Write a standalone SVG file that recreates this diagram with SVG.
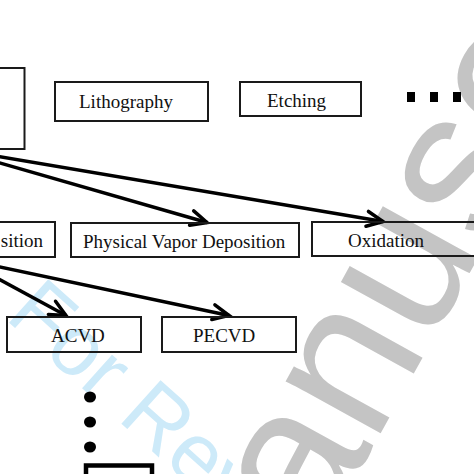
<svg xmlns="http://www.w3.org/2000/svg" width="474" height="474" viewBox="0 0 474 474">
<style>
.box{fill:none;stroke:#1a1a1a;stroke-width:2}
.lbl{font-family:"Liberation Serif","Times New Roman",serif;font-size:19px;fill:#111}
.con{fill:none;stroke:#000;stroke-width:3.5}
.wm1{font-family:"Liberation Sans",Arial,sans-serif;font-size:205px;fill:#c4c4c4}
.wm2{font-family:"Liberation Sans",Arial,sans-serif;font-size:85px;fill:#cdeaf9}
</style>
<defs>
<marker id="arr" markerUnits="userSpaceOnUse" markerWidth="24" markerHeight="24" viewBox="-20 -12 24 24" refX="0" refY="0" orient="auto" overflow="visible">
<path d="M-16,-7.5 L0,0 L-16,7.5" fill="none" stroke="#000" stroke-width="3.5" stroke-linecap="round"/>
</marker>
</defs>
<rect width="474" height="474" fill="#fff"/>
<g id="watermark">
<text class="wm2" transform="translate(4,318) rotate(42)">For Review Only</text>
<text class="wm1" transform="translate(235.8,694.7) rotate(-61)">Manuscript</text>
</g>
<g id="connectors">
<path class="con" d="M-52,148 L383,221.5" marker-end="url(#arr)"/>
<path class="con" d="M-52,148 L207,222.5" marker-end="url(#arr)"/>
<path class="con" d="M-38,259 L229,315.5" marker-end="url(#arr)"/>
<path class="con" d="M-38,259 L66,315.5" marker-end="url(#arr)"/>
</g>
<g id="node-root"><rect class="box" x="-100" y="68" width="124.5" height="81"/></g>
<g id="node-lithography"><rect class="box" x="55" y="82" width="153" height="39"/><text class="lbl" x="79" y="108">Lithography</text></g>
<g id="node-etching"><rect class="box" x="240" y="82" width="121" height="34"/><text class="lbl" x="267" y="107">Etching</text></g>
<g id="node-more-top">
<rect x="407" y="92" width="8" height="10" fill="#000"/>
<rect x="430" y="92" width="8" height="10" fill="#000"/>
<rect x="453" y="92" width="8" height="10" fill="#000"/>
</g>
<g id="node-cvd"><rect class="box" x="-100" y="222" width="155" height="35"/><text class="lbl" x="43" y="247" text-anchor="end">sition</text></g>
<g id="node-pvd"><rect class="box" x="71" y="223" width="228" height="34"/><text class="lbl" x="83" y="248">Physical Vapor Deposition</text></g>
<g id="node-oxidation"><rect class="box" x="312" y="222" width="170" height="34"/><text class="lbl" x="348" y="247">Oxidation</text></g>
<g id="node-acvd"><rect class="box" x="7" y="317" width="134" height="35"/><text class="lbl" x="51" y="342">ACVD</text></g>
<g id="node-pecvd"><rect class="box" x="162" y="317" width="134" height="35"/><text class="lbl" x="193" y="342">PECVD</text></g>
<g id="node-more-bottom">
<ellipse cx="90" cy="397" rx="6" ry="5.5" fill="#000"/>
<ellipse cx="90" cy="422" rx="6" ry="5.5" fill="#000"/>
<ellipse cx="90" cy="447" rx="6" ry="5.5" fill="#000"/>
</g>
<g id="node-bottom"><rect x="86" y="465.5" width="66" height="40" fill="none" stroke="#000" stroke-width="4.5"/></g>
</svg>
